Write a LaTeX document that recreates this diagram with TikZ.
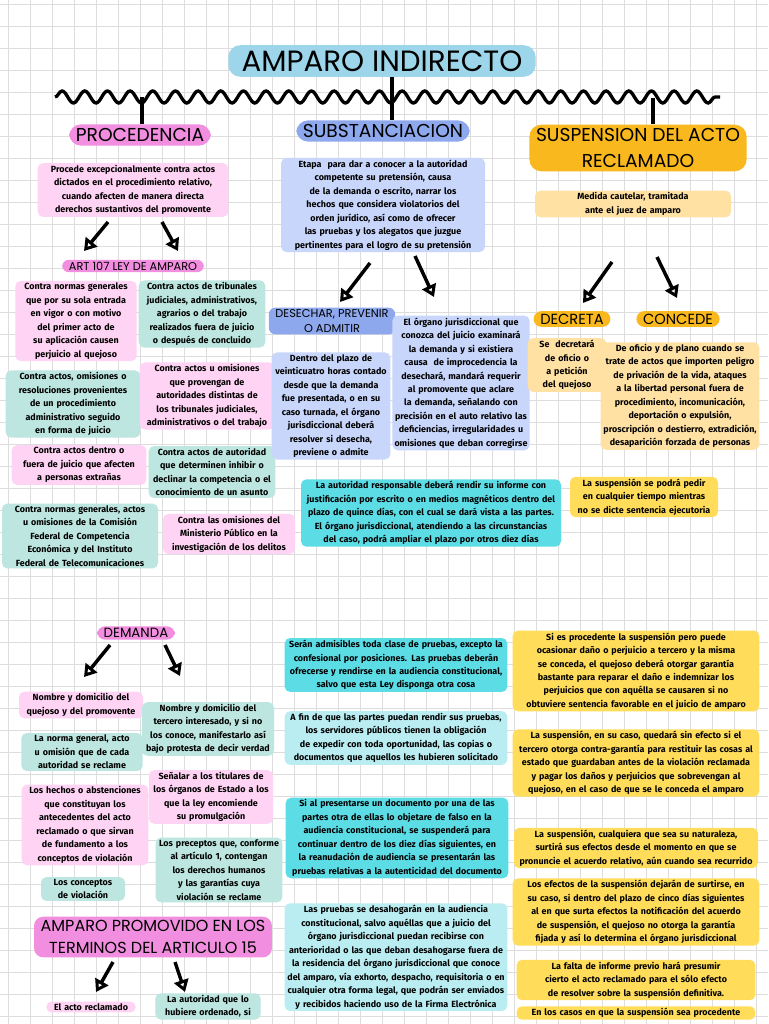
\documentclass[tikz,border=0pt]{standalone}
\usepackage{fontspec}
\setmainfont{Fira Sans}
\newfontfamily\headfont{Poppins}
\usetikzlibrary{arrows.meta,decorations.pathmorphing}
\lefthyphenmin=64
\definecolor{gridc}{HTML}{DDDDDD}
\definecolor{pkL}{HTML}{FFD3F3}
\definecolor{pkH}{HTML}{F28EDF}
\definecolor{tlL}{HTML}{BCE6DF}
\definecolor{blL}{HTML}{C9D6FB}
\definecolor{blH}{HTML}{8EA8EE}
\definecolor{cyD}{HTML}{5CDDE6}
\definecolor{cyL}{HTML}{B9EDF2}
\definecolor{ywL}{HTML}{FFE1A3}
\definecolor{orH}{HTML}{F8B81E}
\definecolor{ywB}{HTML}{FFDD5A}
\definecolor{ttl}{HTML}{9DD6EA}
\tikzset{
 bx/.style={fill=#1,rounded corners=4pt,inner sep=1.5pt,align=center,font=\bfseries\fontsize{6.7}{10.1}\selectfont},
 hd/.style={fill=#1,rounded corners=9pt,inner xsep=5pt,inner ysep=3pt,align=center,font=\headfont\fontsize{15}{18}\selectfont},
 arr/.style={line width=2.6pt,-{Triangle[open,length=9pt,width=11pt,line width=2.4pt]}},
 tick/.style={line width=2.4pt},
}
\begin{document}
\begin{tikzpicture}[x=0.75pt,y=-0.75pt]
\path[use as bounding box] (0,0) rectangle (768,1024);
\clip (0,0) rectangle (768,1024);
\fill[white] (0,0) rectangle (768,1024);
\foreach \i in {0,...,35}{\draw[gridc,line width=0.6pt] (\i*22+8,0) -- (\i*22+8,1024);}
\foreach \j in {0,...,47}{\draw[gridc,line width=0.6pt] (0,\j*22+4) -- (768,\j*22+4);}

% title
\node[hd=ttl,font=\headfont\fontsize{22}{26}\selectfont,inner xsep=10pt,inner ysep=4pt] (title) at (382,61) {AMPARO INDIRECTO};
\draw[line width=2.5pt,decorate,decoration={snake,segment length=17pt,amplitude=4.5pt}] (55,97) -- (720,97);
\coordinate (w1) at (142,97); \coordinate (w2) at (392,92); \coordinate (w3) at (653,98);
\draw[tick] (title.south -| w2) -- (w2);

\node[hd=pkH,font=\headfont\fontsize{14}{18}\selectfont] (proc) at (140,135) {PROCEDENCIA};
\node[hd=blH,font=\headfont\fontsize{14}{18}\selectfont] (subs) at (383,131) {SUBSTANCIACION};
\node[hd=orH,font=\headfont\fontsize{14}{19}\selectfont] (susp) at (638,148) {SUSPENSION DEL ACTO\\RECLAMADO};
\draw[tick] (w1) -- (proc.north -| w1);
\draw[tick] (w2) -- (subs.north -| w2);
\draw[tick] (w3) -- (susp.north -| w3);

% PROCEDENCIA
\node[bx=pkL,text width=140pt] (p0) at (133,190) {Procede excepcionalmente contra actos dictados en el procedimiento relativo, cuando afecten de manera directa derechos sustantivos del promovente};
\node[hd=pkH,font=\headfont\fontsize{8.5}{10}\selectfont,rounded corners=5pt,inner ysep=1.5pt] (art) at (133,266) {ART 107 LEY DE AMPARO};
\coordinate (a1s) at (108,222); \coordinate (a1e) at (84,251);
\coordinate (a2s) at (162,222); \coordinate (a2e) at (178,251);
\draw[arr] (a1s) -- (a1e); \draw[arr] (a2s) -- (a2e);
\node[bx=pkL,text width=88pt] (p1) at (76,321) {Contra normas generales que por su sola entrada en vigor o con motivo del primer acto de su aplicación causen perjuicio al quejoso};
\node[bx=tlL,text width=92pt] (p2) at (202,314) {Contra actos de tribunales judiciales, administrativos, agrarios o del trabajo realizados fuera de juicio o después de concluido};
\node[bx=tlL,text width=98pt] (p3) at (73,404) {Contra actos, omisiones o resoluciones provenientes de un procedimiento administrativo seguido en forma de juicio};
\node[bx=pkL,text width=98pt] (p4) at (207,396) {Contra actos u omisiones que provengan de autoridades distintas de los tribunales judiciales, administrativos o del trabajo};
\node[bx=pkL,text width=98pt] (p5) at (79,465) {Contra actos dentro o fuera de juicio que afecten a personas extrañas};
\node[bx=tlL,text width=92pt] (p6) at (212,472) {Contra actos de autoridad que determinen inhibir o declinar la competencia o el conocimiento de un asunto};
\node[bx=tlL,text width=114pt] (p7) at (80,536) {Contra normas generales, actos u omisiones de la Comisión Federal de Competencia Económica y del Instituto Federal de Telecomunicaciones};
\node[bx=pkL,text width=96pt] (p8) at (229,534) {Contra las omisiones del Ministerio Público en la investigación de los delitos};

% SUBSTANCIACION
\node[bx=blL,text width=150pt] (s0) at (383,205) {Etapa\ \ para dar a conocer a la autoridad competente su pretensión, causa de la demanda o escrito, narrar los hechos que considera violatorios del orden jurídico, así como de ofrecer las pruebas y los alegatos que juzgue pertinentes para el logro de su pretensión};
\coordinate (b1s) at (370,263); \coordinate (b1e) at (340,302);
\coordinate (b2s) at (415,256); \coordinate (b2e) at (434,297);
\draw[arr] (b1s) -- (b1e); \draw[arr] (b2s) -- (b2e);
\node[hd=blH,font=\headfont\fontsize{8.5}{11}\selectfont,rounded corners=5pt,inner ysep=1.5pt] (des) at (332,321) {DESECHAR, PREVENIR\\O ADMITIR};
\node[bx=blL,text width=86pt] (s1) at (331,406) {Dentro del plazo de veinticuatro horas contado desde que la demanda fue presentada, o en su caso turnada, el órgano jurisdiccional deberá resolver si desecha, previene o admite};
\node[bx=blL,text width=100pt] (s2) at (461,383) {El órgano jurisdiccional que conozca del juicio examinará la demanda y si existiera causa\ \ de improcedencia la desechará, mandará requerir al promovente que aclare la demanda, señalando con precisión en el auto relativo las deficiencias, irregularidades u omisiones que deban corregirse};
\node[bx=cyD,text width=192pt] (s3) at (431,513) {La autoridad responsable deberá rendir su informe con justificación por escrito o en medios magnéticos dentro del plazo de quince días, con el cual se dará vista a las partes. El órgano jurisdiccional, atendiendo a las circunstancias del caso, podrá ampliar el plazo por otros diez días};

% SUSPENSION
\node[bx=ywL,text width=144pt] (u0) at (633,204) {Medida cautelar, tramitada ante el juez de amparo};
\coordinate (c1s) at (612,262); \coordinate (c1e) at (583,303);
\coordinate (c2s) at (657,257); \coordinate (c2e) at (677,298);
\draw[arr] (c1s) -- (c1e); \draw[arr] (c2s) -- (c2e);
\node[hd=orH,font=\headfont\fontsize{11}{13}\selectfont,rounded corners=6pt,inner ysep=2pt] (dec) at (572,319) {DECRETA};
\node[hd=orH,font=\headfont\fontsize{11}{13}\selectfont,rounded corners=6pt,inner ysep=2pt] (con) at (678,319) {CONCEDE};
\node[bx=ywL,text width=56pt] (u1) at (567,365) {Se\ \ decretará de oficio o a petición del quejoso};
\node[bx=ywL,text width=116pt] (u2) at (680,396) {De oficio y de plano cuando se trate de actos que importen peligro de privación de la vida, ataques a la libertad personal fuera de procedimiento, incomunicación, deportación o expulsión, proscripción o destierro, extradición, desaparición forzada de personas};
\node[bx=ywB,text width=108pt] (u3) at (644,497) {La suspensión se podrá pedir en cualquier tiempo mientras no se dicte sentencia ejecutoria};

% DEMANDA
\node[hd=pkH,font=\headfont\fontsize{10}{12}\selectfont,rounded corners=6pt,inner ysep=1.5pt] (dem) at (136,633) {DEMANDA};
\coordinate (d1s) at (110,645); \coordinate (d1e) at (84,677);
\coordinate (d2s) at (165,645); \coordinate (d2e) at (180,676);
\draw[arr] (d1s) -- (d1e); \draw[arr] (d2s) -- (d2e);
\node[bx=pkL,text width=90pt] (m1) at (81,705) {Nombre y domicilio del quejoso y del promovente};
\node[bx=tlL,text width=96pt] (m2) at (208,729) {Nombre y domicilio del tercero interesado, y si no los conoce, manifestarlo así bajo protesta de decir verdad};
\node[bx=tlL,text width=88pt] (m3) at (82,752) {La norma general, acto u omisión que de cada autoridad se reclame};
\node[bx=pkL,text width=90pt] (m4) at (211,797) {Señalar a los titulares de los órganos de Estado a los que la ley encomiende su promulgación};
\node[bx=pkL,text width=92pt] (m5) at (85,825) {Los hechos o abstenciones que constituyan los antecedentes del acto reclamado o que sirvan de fundamento a los conceptos de violación};
\node[bx=tlL,text width=92pt] (m6) at (219,870) {Los preceptos que, conforme al artículo 1, contengan los derechos humanos y las garantías cuya violación se reclame};
\node[bx=tlL,text width=60pt] (m7) at (83,889) {Los conceptos de violación};
\node[hd=pkH,font=\headfont\fontsize{12}{16}\selectfont,rounded corners=7pt] (a15) at (153,937) {AMPARO PROMOVIDO EN LOS\\TERMINOS DEL ARTICULO 15};
\coordinate (e1s) at (113,962); \coordinate (e1e) at (96,992);
\coordinate (e2s) at (175,962); \coordinate (e2e) at (185,992);
\draw[arr] (e1s) -- (e1e); \draw[arr] (e2s) -- (e2e);
\node[bx=pkL,text width=64pt] (m8) at (91,1007) {El acto reclamado};
\node[bx=tlL,text width=76pt,anchor=north] (m9) at (208,993) {La autoridad que lo\\hubiere ordenado, si};

% middle column
\node[bx=cyD,text width=164pt] (q1) at (396,665) {Serán admisibles toda clase de pruebas, excepto la confesional por posiciones. Las pruebas deberán ofrecerse y rendirse en la audiencia constitucional, salvo que esta Ley disponga otra cosa};
\node[bx=cyL,text width=164pt] (q2) at (396,738) {A fin de que las partes puedan rendir sus pruebas, los servidores públicos tienen la obligación de expedir con toda oportunidad, las copias o documentos que aquellos les hubieren solicitado};
\node[bx=cyD,text width=164pt] (q3) at (397,838) {Si al presentarse un documento por una de las partes otra de ellas lo objetare de falso en la audiencia constitucional, se suspenderá para continuar dentro de los diez días siguientes, en la reanudación de audiencia se presentarán las pruebas relativas a la autenticidad del documento};
\node[bx=cyL,text width=164pt,anchor=north] (q4) at (396,903) {Las pruebas se desahogarán en la audiencia constitucional, salvo aquéllas que a juicio del órgano jurisdiccional puedan recibirse con anterioridad o las que deban desahogarse fuera de la residencia del órgano jurisdiccional que conoce del amparo, vía exhorto, despacho, requisitoria o en cualquier otra forma legal, que podrán ser enviados y recibidos haciendo uso de la Firma Electrónica};

% right column
\node[bx=ywB,text width=182pt] (r1) at (636,671) {Si es procedente la suspensión pero puede ocasionar daño o perjuicio a tercero y la misma se conceda, el quejoso deberá otorgar garantía bastante para reparar el daño e indemnizar los perjuicios que con aquélla se causaren si no obtuviere sentencia favorable en el juicio de amparo};
\node[bx=ywB,text width=182pt] (r2) at (636,763) {La suspensión, en su caso, quedará sin efecto si el tercero otorga contra-garantía para restituir las cosas al estado que guardaban antes de la violación reclamada y pagar los daños y perjuicios que sobrevengan al quejoso, en el caso de que se le conceda el amparo};
\node[bx=ywB,text width=180pt] (r3) at (636,848) {La suspensión, cualquiera que sea su naturaleza, surtirá sus efectos desde el momento en que se pronuncie el acuerdo relativo, aún cuando sea recurrido};
\node[bx=ywB,text width=182pt] (r4) at (636,912) {Los efectos de la suspensión dejarán de surtirse, en su caso, si dentro del plazo de cinco días siguientes al en que surta efectos la notificación del acuerdo de suspensión, el quejoso no otorga la garantía fijada y así lo determina el órgano jurisdiccional};
\node[bx=ywB,text width=176pt] (r5) at (636,980) {La falta de informe previo hará presumir cierto el acto reclamado para el sólo efecto de resolver sobre la suspensión definitiva.};
\node[bx=ywB,text width=176pt,anchor=north] (r6) at (636,1006) {En los casos en que la suspensión sea procedente};
\end{tikzpicture}
\end{document}
